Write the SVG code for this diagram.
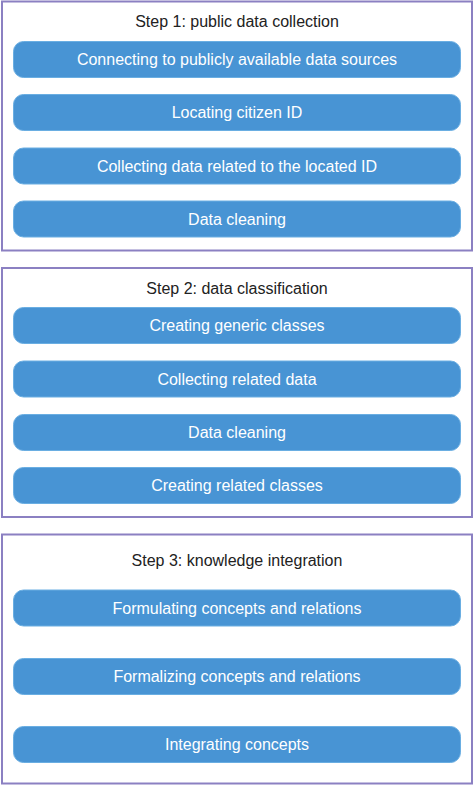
<svg xmlns="http://www.w3.org/2000/svg" width="474" height="785" viewBox="0 0 474 785">
<style>
.panel{fill:#fff;stroke:#8b80c2;stroke-width:2}
.box{fill:#4894d4;stroke:#6aaee2;stroke-width:1}
.title{font-family:"Liberation Sans",Arial,sans-serif;font-size:16px;fill:#222;text-anchor:middle}
.lbl{font-family:"Liberation Sans",Arial,sans-serif;font-size:16px;fill:#fff;text-anchor:middle}
</style>
<rect width="474" height="785" fill="#fff"/>
<g id="step1">
<rect class="panel" x="2" y="1.5" width="470" height="249"/>
<text class="title" x="237" y="27">Step 1: public data collection</text>
</g>
<g id="n1"><rect class="box" x="13.5" y="41.5" width="447" height="36" rx="10"/><text class="lbl" x="237" y="65">Connecting to publicly available data sources</text></g>
<g id="n2"><rect class="box" x="13.5" y="94.5" width="447" height="36" rx="10"/><text class="lbl" x="237" y="118">Locating citizen ID</text></g>
<g id="n3"><rect class="box" x="13.5" y="148" width="447" height="36" rx="10"/><text class="lbl" x="237" y="171.5">Collecting data related to the located ID</text></g>
<g id="n4"><rect class="box" x="13.5" y="201" width="447" height="36" rx="10"/><text class="lbl" x="237" y="224.5">Data cleaning</text></g>
<g id="step2">
<rect class="panel" x="2" y="268" width="470" height="249"/>
<text class="title" x="237" y="294">Step 2: data classification</text>
</g>
<g id="n5"><rect class="box" x="13.5" y="307.5" width="447" height="36" rx="10"/><text class="lbl" x="237" y="331">Creating generic classes</text></g>
<g id="n6"><rect class="box" x="13.5" y="361" width="447" height="36" rx="10"/><text class="lbl" x="237" y="384.5">Collecting related data</text></g>
<g id="n7"><rect class="box" x="13.5" y="414.5" width="447" height="36" rx="10"/><text class="lbl" x="237" y="438">Data cleaning</text></g>
<g id="n8"><rect class="box" x="13.5" y="467.5" width="447" height="36" rx="10"/><text class="lbl" x="237" y="491">Creating related classes</text></g>
<g id="step3">
<rect class="panel" x="2" y="534.5" width="470" height="249"/>
<text class="title" x="237" y="566">Step 3: knowledge integration</text>
</g>
<g id="n9"><rect class="box" x="13.5" y="590" width="447" height="36" rx="10"/><text class="lbl" x="237" y="613.5">Formulating concepts and relations</text></g>
<g id="n10"><rect class="box" x="13.5" y="658.5" width="447" height="36" rx="10"/><text class="lbl" x="237" y="682">Formalizing concepts and relations</text></g>
<g id="n11"><rect class="box" x="13.5" y="726.5" width="447" height="36" rx="10"/><text class="lbl" x="237" y="750">Integrating concepts</text></g>
<g id="connectors"></g>
</svg>
